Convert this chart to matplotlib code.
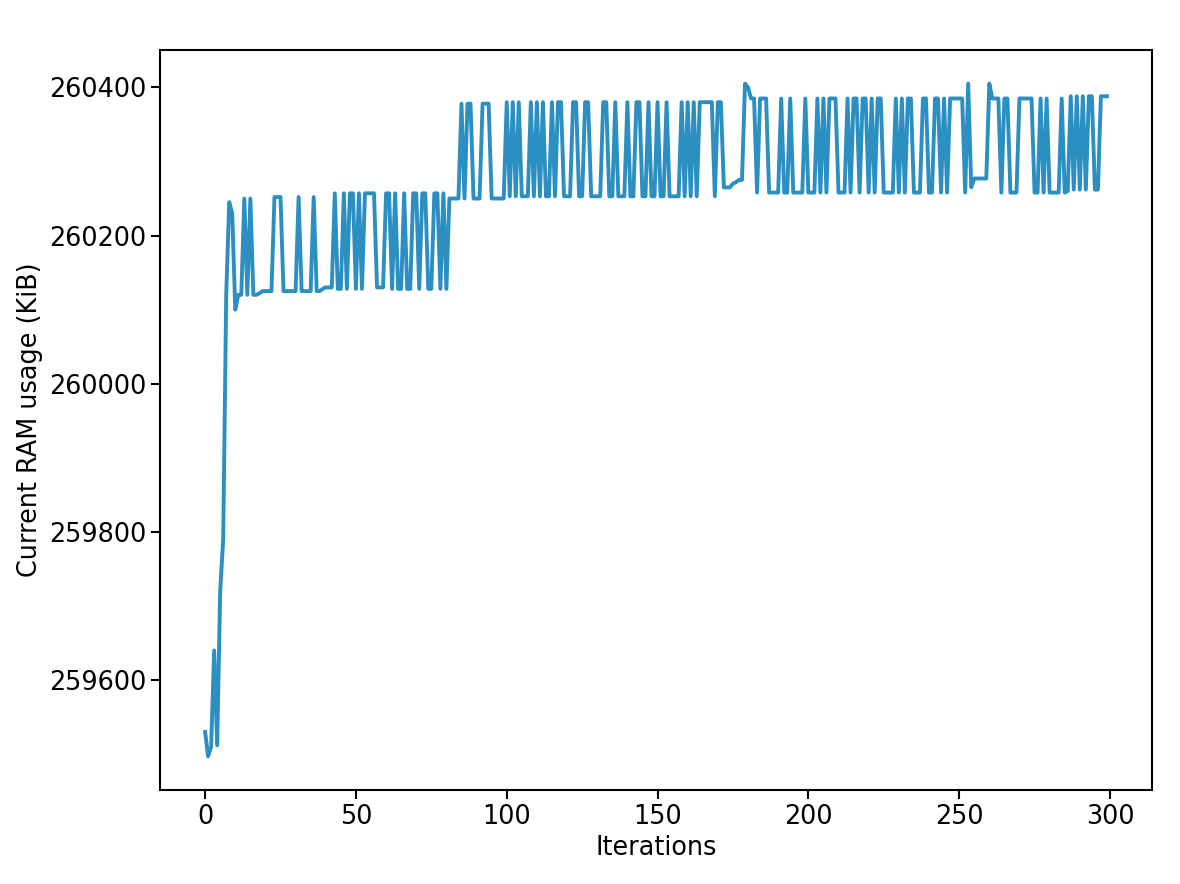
import matplotlib
matplotlib.use("Agg")
import matplotlib.pyplot as plt

ram_kib = [
259530,259497,259510,259640,259512,259720,259790,260120,260245,260230,
260100,260120,260120,260250,260120,260250,260120,260120,260122,260125,
260125,260125,260125,260252,260252,260252,260125,260125,260125,260125,
260125,260252,260125,260125,260125,260125,260252,260125,260125,260128,
260130,260130,260130,260257,260128,260128,260257,260128,260257,260257,
260128,260257,260128,260257,260257,260257,260257,260130,260130,260130,
260257,260257,260128,260257,260128,260128,260257,260128,260128,260257,
260257,260128,260257,260257,260128,260128,260257,260257,260128,260257,
260128,260250,260250,260250,260250,260378,260250,260378,260378,260250,
260250,260250,260378,260378,260378,260250,260250,260250,260250,260250,
260380,260253,260380,260253,260380,260253,260253,260253,260380,260253,
260380,260253,260380,260253,260253,260380,260253,260380,260380,260253,
260253,260253,260380,260380,260253,260253,260380,260380,260253,260253,
260253,260253,260380,260380,260253,260253,260380,260253,260253,260253,
260380,260253,260253,260380,260380,260253,260253,260380,260253,260253,
260380,260253,260253,260380,260253,260253,260253,260253,260380,260253,
260380,260253,260380,260253,260380,260380,260380,260380,260380,260253,
260380,260380,260265,260265,260265,260270,260272,260275,260275,260405,
260400,260385,260385,260258,260385,260385,260385,260258,260258,260258,
260258,260385,260258,260258,260385,260258,260258,260258,260258,260385,
260258,260258,260258,260385,260258,260385,260258,260385,260385,260385,
260258,260258,260258,260385,260258,260385,260385,260258,260385,260385,
260258,260385,260258,260385,260385,260258,260258,260258,260258,260385,
260258,260385,260258,260385,260385,260258,260258,260258,260385,260385,
260258,260258,260385,260385,260258,260385,260258,260385,260385,260385,
260385,260385,260258,260405,260265,260277,260277,260277,260277,260277,
260405,260385,260385,260385,260258,260385,260385,260258,260258,260258,
260385,260385,260385,260385,260385,260258,260258,260385,260258,260385,
260258,260258,260258,260258,260385,260258,260260,260388,260262,260388,
260262,260388,260262,260388,260388,260262,260262,260388,260388,260388,
]
iterations = list(range(len(ram_kib)))

fig = plt.figure(figsize=(11.8, 8.84), dpi=100)
ax = fig.add_axes([0.1356, 0.1063, 0.8407, 0.8371])
ax.plot(iterations, ram_kib, color="#2b8fc1", linewidth=2.8)
ax.set_xlabel("Iterations", fontsize=18.4)
ax.set_ylabel("Current RAM usage (KiB)", fontsize=18.4)
ax.tick_params(labelsize=18.4, width=1.5, length=6.4)
for s in ax.spines.values():
    s.set_linewidth(1.5)
ax.ticklabel_format(axis="y", useOffset=False, style="plain")
fig.savefig("out.png", dpi=100)
